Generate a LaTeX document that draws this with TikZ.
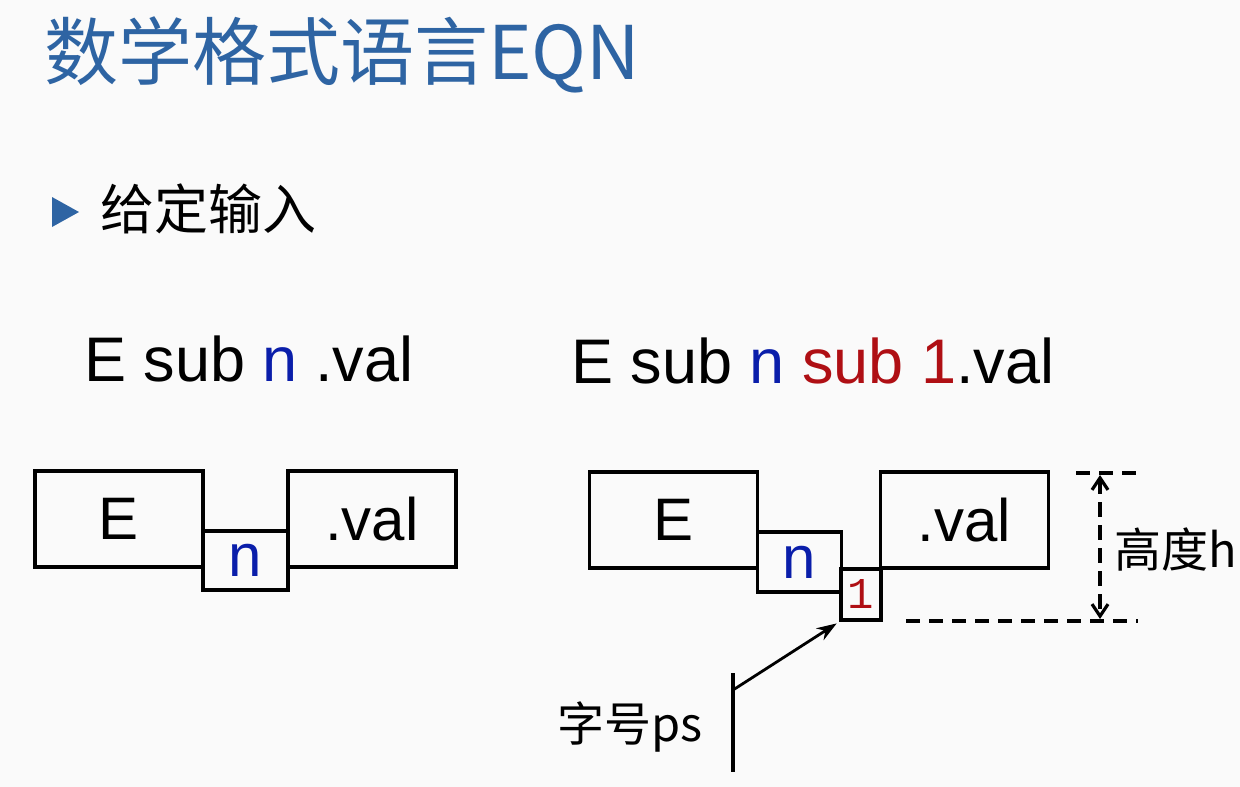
\documentclass[tikz,border=0pt]{standalone}
\usepackage{fontspec}
\setmainfont{Liberation Sans}
\newfontfamily\cjk{Noto Sans CJK SC}
\newfontfamily\monof{Liberation Mono}
\usetikzlibrary{arrows.meta}
\definecolor{titleblue}{RGB}{46,100,163}
\definecolor{nblue}{RGB}{10,30,170}
\definecolor{subred}{RGB}{175,15,20}
\definecolor{bgc}{RGB}{250,250,250}
\begin{document}
\begin{tikzpicture}[x=1pt,y=-1pt,
  box/.style={draw=black, line width=3.6pt, inner sep=0pt, font=\fontsize{60}{66}\selectfont},
  label/.style={anchor=base west, inner sep=0pt},
  dimline/.style={line width=3.6pt, dash pattern=on 14pt off 9pt}]
\fill[bgc] (0,0) rectangle (1240,787);
\useasboundingbox (0,0) rectangle (1240,787);

% title and bullet
\node[label, text=titleblue, font=\cjk\fontsize{74}{84}\selectfont] (title) at (44,79) {数学格式语言EQN};
\fill[titleblue] (52,197) -- (52,227) -- (79,212) -- cycle;
\node[label, font=\cjk\fontsize{54}{60}\selectfont] (given) at (100,229) {给定输入};

% input strings
\node[label, font=\fontsize{63}{70}\selectfont] (in1) at (84,381) {E sub \textcolor{nblue}{n} .val};
\node[label, font=\fontsize{63}{70}\selectfont] (in2) at (571,383) {E sub \textcolor{nblue}{n} \textcolor{subred}{sub 1}.val};

% left diagram
\node[box, minimum width=168pt, minimum height=96pt] (E1) at (119,519) {E};
\node[box, minimum width=85pt, minimum height=59pt, text=nblue] (n1) at (245.5,560.5) {n};
\node[box, minimum width=168pt, minimum height=96pt] (v1) at (372,519) {.val};

% right diagram
\node[box, minimum width=168pt, minimum height=96pt] (E2) at (673.5,520) {E};
\node[box, minimum width=84pt, minimum height=60pt, text=nblue] (n2) at (799.5,562) {n};
\node[box, minimum width=40pt, minimum height=51pt, text=subred, font=\monof\fontsize{44}{48}\selectfont] (one) at (861,594.5) {1};
\node[box, minimum width=168pt, minimum height=96pt] (v2) at (964.5,520) {.val};

% height dimension
\coordinate (tl) at (1076,473);
\coordinate (tr) at (1138,473);
\coordinate (bl) at (906,621);
\coordinate (br) at (1138,621);
\coordinate (at) at (1100,475);
\coordinate (ab) at (1100,619);
\draw[dimline] (tl) -- (tr);
\draw[dimline] (bl) -- (br);
\draw[line width=3.2pt, dash pattern=on 15pt off 8pt, {Straight Barb[length=12pt,width=16pt]}-{Straight Barb[length=12pt,width=16pt]}] (at) -- (ab);
\node[label, font=\cjk\fontsize{47}{52}\selectfont] (h) at (1114,567) {高度h};

% font size pointer
\node[label, font=\cjk\fontsize{47}{52}\selectfont] (ps) at (557,741) {字号ps};
\coordinate (vt) at (733,673);
\coordinate (vb) at (733,772);
\coordinate (vm) at (733,690);
\draw[line width=3.4pt] (vt) -- (vb);
\draw[line width=2.8pt, -{Stealth[length=20pt,width=14pt]}, shorten >=3pt] (vm) -- (one.south west);
\end{tikzpicture}
\end{document}
